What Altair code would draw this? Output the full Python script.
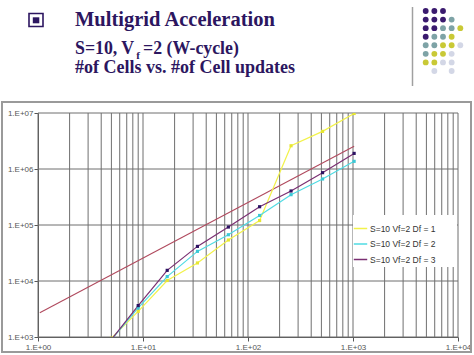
import altair as alt
import pandas as pd

# ---------------- data ----------------
cells = [5, 9, 17, 33, 65, 129, 257, 513, 1025]
updates_df1 = [950, 2870, 10200, 21000, 54000, 120000, 2600000, 4700000, 9800000]
updates_df2 = [900, 3300, 12000, 33800, 67000, 148000, 348000, 663000, 1370000]
updates_df3 = [900, 3640, 15500, 41500, 92000, 212000, 405000, 860000, 1900000]
series_names = ["S=10 Vf=2 Df = 1", "S=10 Vf=2 Df = 2", "S=10 Vf=2 Df = 3"]

ref_cells = [1.04, 1025]
ref_updates = [2700, 2550000]

x_ticks = [1, 10, 100, 1000, 10000]
y_ticks = [1000, 10000, 100000, 1000000, 10000000]
x_grid = [m * 10 ** k for k in range(4) for m in range(1, 10)] + [10000]

title_line1 = "Multigrid Acceleration"
title_line2a = "S=10, V"
title_line2b = "f"
title_line2c = "=2 (W-cycle)"
title_line3 = "#of Cells vs. #of Cell updates"

# decorative dot grid (column, row)
dot_col = [0, 1, 2, 0, 1, 2, 3, 0, 1, 2, 3, 4, 0, 1, 2, 3, 0, 1, 2, 3, 4, 0, 1, 2, 3, 0, 1, 2, 3, 1, 3]
dot_row = [0, 0, 0, 1, 1, 1, 1, 2, 2, 2, 2, 2, 3, 3, 3, 3, 4, 4, 4, 4, 4, 5, 5, 5, 5, 6, 6, 6, 6, 7, 7]

# ---------------- styles ----------------
line_colors = ["#f2f24a", "#4fdbe3", "#7a2f72"]
marker_colors = ["#e6e632", "#3cc8d6", "#2b1262"]
title_color = "#2c1660"
grid_color = "#6f6f6f"
axis_color = "#555555"

W, H = 420, 224
LEFT, TOP = 38, 113

rows = []
for name, vals in zip(series_names, [updates_df1, updates_df2, updates_df3]):
    for c, v in zip(cells, vals):
        rows.append({"cells": c, "updates": v, "series": name})
df = pd.DataFrame(rows)
ref_df = pd.DataFrame({"cells": ref_cells, "updates": ref_updates})

xscale = alt.Scale(type="log", domain=[1, 10000], nice=False)
yscale = alt.Scale(type="log", domain=[1000, 10000000], nice=False)

label_expr = "'1.E+' + (round(log(datum.value)/LN10) < 10 ? '0' : '') + round(log(datum.value)/LN10)"

x_axis = alt.Axis(values=x_ticks, labelExpr=label_expr, title=None, grid=False,
                  tickSize=4, labelPadding=2, labelFontSize=8, labelColor=axis_color,
                  labelFont="Liberation Sans", domainColor=axis_color, tickColor=axis_color,
                  labelFlush=False)
y_axis = alt.Axis(values=y_ticks, labelExpr=label_expr, title=None, grid=False,
                  tickSize=4, labelPadding=1, labelFontSize=8, labelColor=axis_color,
                  labelFont="Liberation Sans", domainColor=axis_color, tickColor=axis_color,
                  labelFlush=False)

# grid lines
vgrid = alt.Chart(pd.DataFrame({"g": x_grid})).mark_rule(color=grid_color, strokeWidth=1).encode(
    x=alt.X("g:Q", scale=xscale, axis=x_axis)
)
hgrid = alt.Chart(pd.DataFrame({"g": y_ticks})).mark_rule(color=grid_color, strokeWidth=1).encode(
    y=alt.Y("g:Q", scale=yscale, axis=y_axis)
)

# white legend box
legend_box = alt.Chart(pd.DataFrame({"a": [0]})).mark_rect(color="white").encode(
    x=alt.value(353 - LEFT), x2=alt.value(457 - LEFT),
    y=alt.value(215 - TOP), y2=alt.value(267 - TOP)
)

ref_line = alt.Chart(ref_df).mark_line(color="#b04a5e", strokeWidth=1.1, clip=True).encode(
    x=alt.X("cells:Q", scale=xscale, axis=x_axis),
    y=alt.Y("updates:Q", scale=yscale, axis=y_axis),
)

lines = alt.Chart(df).mark_line(strokeWidth=1.2, clip=True).encode(
    x=alt.X("cells:Q", scale=xscale, axis=x_axis),
    y=alt.Y("updates:Q", scale=yscale, axis=y_axis),
    color=alt.Color("series:N", scale=alt.Scale(domain=series_names, range=line_colors),
                    legend=alt.Legend(orient="none", legendX=353 - LEFT, legendY=221 - TOP,
                                      title=None, symbolType="stroke", symbolSize=180,
                                      symbolStrokeWidth=1.5, labelFontSize=8.5,
                                      labelFont="Liberation Sans", labelColor="#333333",
                                      labelOffset=2, rowPadding=3.5, padding=0)),
    detail="series:N",
)

points = alt.Chart(df).mark_point(filled=True, shape="square", size=10, clip=True, opacity=1).encode(
    x=alt.X("cells:Q", scale=xscale, axis=x_axis),
    y=alt.Y("updates:Q", scale=yscale, axis=y_axis),
    fill=alt.Fill("series:N", scale=alt.Scale(domain=series_names, range=marker_colors), legend=None),
)

def txt(text, x, y, size, bold=True):
    return alt.Chart(pd.DataFrame({"t": [text]})).mark_text(
        align="left", baseline="alphabetic", font="Liberation Serif",
        fontWeight="bold" if bold else "normal", fontSize=size, color=title_color
    ).encode(text="t:N", x=alt.value(x - LEFT), y=alt.value(y - TOP))

titles = [
    txt(title_line1, 75, 26, 20.5),
    txt(title_line2a, 75, 54, 17.8),
    txt(title_line2b, 136.2, 59, 11),
    txt(title_line2c, 143, 54, 17.8),
    txt(title_line3, 75, 72.5, 18),
]

bullet_outer = alt.Chart(pd.DataFrame({"a": [0]})).mark_rect(
    filled=False, stroke=title_color, strokeWidth=1.6
).encode(x=alt.value(29 - LEFT), x2=alt.value(43 - LEFT), y=alt.value(13.5 - TOP), y2=alt.value(26.5 - TOP))
bullet_inner = alt.Chart(pd.DataFrame({"a": [0]})).mark_rect(color=title_color).encode(
    x=alt.value(32.8 - LEFT), x2=alt.value(39.3 - LEFT), y=alt.value(17.3 - TOP), y2=alt.value(23.3 - TOP)
)

frame = alt.Chart(pd.DataFrame({"a": [0]})).mark_rect(
    filled=False, stroke="#9a9a9a", strokeWidth=2
).encode(x=alt.value(2 - LEFT), x2=alt.value(471 - LEFT), y=alt.value(102 - TOP), y2=alt.value(352 - TOP))

sep = alt.Chart(pd.DataFrame({"a": [0]})).mark_rule(color="#a0a0a0", strokeWidth=1.5).encode(
    x=alt.value(412.5 - LEFT), y=alt.value(7 - TOP), y2=alt.value(86 - TOP)
)

shade_names = ["indigo", "teal", "olive", "lavender"]
shade_colors = ["#3a1a6e", "#7ea3a6", "#c9c936", "#d3d7e6"]
dots_df = pd.DataFrame({"c": dot_col, "r": dot_row})
dots_df["shade"] = [
    shade_names[0] if c + r <= 3 else shade_names[1] if c + r <= 5 else shade_names[2] if c + r <= 7 else shade_names[3]
    for c, r in zip(dot_col, dot_row)
]
dots = alt.Chart(dots_df).mark_circle(size=34, opacity=1).encode(
    x=alt.X("c:Q", scale=alt.Scale(domain=[0, 4], range=[425.7 - LEFT, 460.3 - LEFT]), axis=None),
    y=alt.Y("r:Q", scale=alt.Scale(domain=[0, 7], range=[11 - TOP, 71 - TOP]), axis=None),
    color=alt.Color("shade:N", scale=alt.Scale(domain=shade_names, range=shade_colors), legend=None),
)

main = alt.layer(vgrid, hgrid, legend_box, ref_line, lines, points)
deco = alt.layer(frame, sep, bullet_outer, bullet_inner, *titles)

chart = alt.layer(main, dots, deco).resolve_scale(
    x="independent", y="independent", color="independent"
).properties(
    width=W, height=H,
    autosize=alt.AutoSizeParams(type="none"),
    padding={"left": LEFT, "top": TOP, "right": 474 - LEFT - W, "bottom": 355 - TOP - H},
    background="white",
).configure_view(stroke=None)

chart.save("out.html", embed_options={"renderer": "svg", "actions": False})
